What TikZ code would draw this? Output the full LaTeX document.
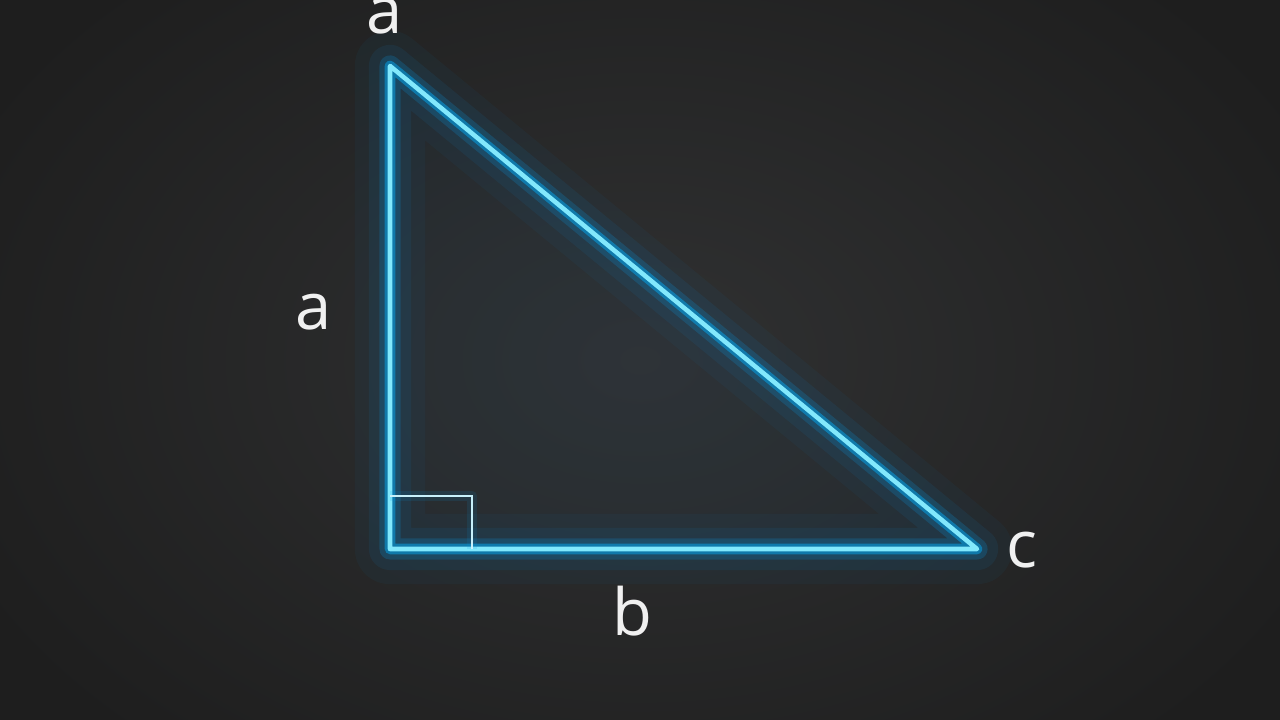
\documentclass[tikz,border=0pt]{standalone}
\usepackage{fontspec}
\setmainfont{Open Sans}
\begin{document}
\begin{tikzpicture}[
  lbl/.style={text=white!94!black, font=\fontsize{18.5pt}{22pt}\selectfont, inner sep=0pt, anchor=base},
  glowA/.style={draw=cyan!70!blue, line width=20pt, opacity=0.05, line join=round},
  glowB/.style={draw=cyan!70!blue, line width=12pt, opacity=0.09, line join=round},
  glowC/.style={draw=cyan!80!blue, line width=6pt, opacity=0.22, line join=round},
  glowD/.style={draw=cyan!90!blue, line width=3pt, opacity=0.55, line join=round},
  core/.style={draw={rgb,255:red,130;green,232;blue,252}, line width=1.3pt, line join=round},
  sq/.style={draw={rgb,255:red,200;green,240;blue,250}, line width=0.7pt}
]
\definecolor{bgout}{RGB}{30,30,30}
\definecolor{bgin}{RGB}{48,49,50}
\useasboundingbox (0,0) rectangle (12.8,7.2);
\fill[bgout] (0,0) rectangle (12.8,7.2);
\shade[inner color=bgin, outer color=bgout] (6.4,3.6) ellipse (7.5 and 5.2);
\coordinate (A) at (3.90,6.54);
\coordinate (B) at (3.90,1.71);
\coordinate (C) at (9.77,1.71);
\coordinate (S) at (4.72,2.24);
% inner faint tint
\fill[cyan!60!blue, opacity=0.04] (A) -- (B) -- (C) -- cycle;
\foreach \st in {glowA,glowB,glowC,glowD,core}{
  \draw[\st] (A) -- (B) -- (C) -- cycle;
}
\draw[glowC, line width=3pt, opacity=0.12] (B |- S) -- (S) -- (S |- B);
\draw[sq] (B |- S) -- (S) -- (S |- B);
\node[lbl] (la) at (3.85,6.86) {a};
\node[lbl] (lside) at (3.14,3.90) {a};
\node[lbl] (lb) at (6.32,0.84) {b};
\node[lbl] (lc) at (10.22,1.52) {c};
\end{tikzpicture}
\end{document}
